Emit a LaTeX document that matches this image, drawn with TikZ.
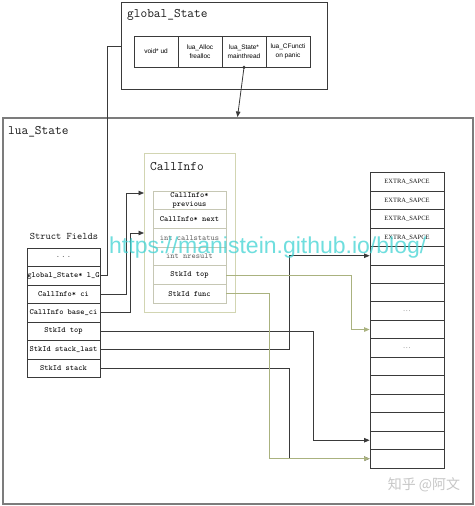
\documentclass[tikz,border=0pt]{standalone}
\usepackage{fontspec}
\newfontfamily\sansf{Liberation Sans}
\newfontfamily\serf{Liberation Serif}
\newfontfamily\cjkf{Noto Sans CJK SC}
\usetikzlibrary{arrows.meta}
\definecolor{dk}{HTML}{3A3A3A}
\definecolor{olv}{HTML}{AAB27F}
\definecolor{olvl}{HTML}{D2D5B2}
\definecolor{olvg}{HTML}{C6C7B4}
\definecolor{frm}{HTML}{7C7C7C}
\definecolor{wm}{HTML}{3FD3D3}
\newcommand{\tdots}{\textcolor{black!65}{.\,.\,.}}
\newcommand{\xsp}{EXTRA\_SAPCE}
\begin{document}
\begin{tikzpicture}[x=1pt,y=-1pt,
  title/.style={font=\ttfamily\fontsize{13}{15}\selectfont, text=black!90, anchor=west, inner sep=0pt},
  cell/.style={draw=dk, line width=0.8pt, rectangle, inner sep=0pt, minimum width=73pt, minimum height=18.5pt, font=\ttfamily\fontsize{8}{9}\selectfont, text=black, align=center},
  cicell/.style={cell, draw=olvg, minimum height=18.7pt},
  gcell/.style={draw=dk, line width=0.8pt, rectangle, inner sep=0pt, minimum width=44pt, minimum height=31pt, font=\sansf\fontsize{6.5}{9.5}\selectfont, text=black, align=center},
  scell/.style={draw=dk, line width=0.8pt, rectangle, inner sep=0pt, minimum width=74pt, minimum height=18.45pt, font=\serf\fontsize{6.5}{8}\selectfont, text=black!90},
  arr/.style={draw=dk, line width=0.8pt, -{Triangle[length=5.5pt,width=4.5pt]}},
  oarr/.style={draw=olv, line width=0.8pt, -{Triangle[length=5.5pt,width=4.5pt]}},
  ln/.style={draw=dk, line width=0.8pt}
]
\useasboundingbox[fill=white] (0,0) rectangle (474,506);

% lua_State frame
\node[draw=frm, line width=2pt, anchor=north west, minimum width=470pt, minimum height=386pt, inner sep=0pt] (lbox) at (2,117) {};
\node[title] (ltitle) at (8,132) {lua\_State};

% global_State
\node[draw=dk, line width=1.2pt, anchor=north west, minimum width=206pt, minimum height=87pt, inner sep=0pt] (gbox) at (121,2) {};
\node[title] (gtitle) at (127,15) {global\_State};
\node[gcell] (gc1) at (156,51.5) {void* ud};
\node[gcell] (gc2) at (200,51.5) {lua\_Alloc\\frealloc};
\node[gcell] (gc3) at (244,51.5) {lua\_State*\\mainthread};
\node[gcell] (gc4) at (288,51.5) {lua\_CFuncti\\on panic};

% CallInfo
\node[draw=olvl, line width=1pt, anchor=north west, minimum width=91pt, minimum height=159pt, inner sep=0pt] (cbox) at (144,153) {};
\node[title] (ctitle) at (150,167) {CallInfo};
\node[cicell, font=\ttfamily\fontsize{8}{9.5}\selectfont] (ci1) at (189.5,200.35) {CallInfo*\\previous};
\node[cicell] (ci2) at (189.5,219.05) {CallInfo* next};
\node[cicell, text=black!60] (ci3) at (189.5,237.75) {int callstatus};
\node[cicell, text=black!60] (ci4) at (189.5,256.45) {int nresult};
\node[cicell] (ci5) at (189.5,275.15) {StkId top};
\node[cicell] (ci6) at (189.5,293.85) {StkId func};

% Struct Fields
\node[inner sep=0pt, font=\ttfamily\fontsize{10}{12}\selectfont, text=black!90] (stitle) at (64,236) {Struct Fields};
\node[cell] (sf1) at (63.5,257.25) {\tdots};
\node[cell] (sf2) at (63.5,275.75) {global\_State* l\_G};
\node[cell] (sf3) at (63.5,294.25) {CallInfo* ci};
\node[cell] (sf4) at (63.5,312.75) {CallInfo base\_ci};
\node[cell] (sf5) at (63.5,331.25) {StkId top};
\node[cell] (sf6) at (63.5,349.75) {StkId stack\_last};
\node[cell] (sf7) at (63.5,368.25) {StkId stack};

% stack
\foreach \i/\t in {1/\xsp,2/\xsp,3/\xsp,4/\xsp,5/,6/,7/,8/\tdots,9/,10/\tdots,11/,12/,13/,14/,15/,16/}{
  \node[scell] (st\i) at (407,{172.7+(\i-0.5)*18.45}) {\t};
}

% connectors
\draw[ln] (sf2.east) -- ++(7,0) |- (gbox.west);
\fill[dk] (gc3.south) circle (1.8pt);
\coordinate (mtend) at (237.5,117);
\draw[arr] (gc3.south) -- (mtend);
\draw[arr] (sf3.east) -- ++(25.5,0) |- (cbox.west |- 0,193);
\draw[arr] (sf4.east) -- ++(30,0) |- (cbox.west);
\draw[arr] (sf5.east) -- ++(213,0) |- (st15.west);
\draw[arr] (sf6.east) -- ++(189,0) |- (st5.west);
\draw[arr] (sf7.east) -- ++(189,0) |- (st16.west);
\draw[oarr] (ci5.east) -- ++(125,0) |- (st9.west);
\draw[oarr] (ci6.east) -- ++(42.5,0) |- (st16.west);

% watermarks
\node[font=\sansf\fontsize{23}{23}\selectfont, text=wm, text opacity=0.75, anchor=base west, inner sep=0pt] (wmark) at (109,253) {https://manistein.github.io/blog/};
\node[font=\cjkf\fontsize{14}{14}\selectfont, text=black!22, inner sep=0pt] (zh) at (424,485) {知乎 @阿文};
\end{tikzpicture}
\end{document}
